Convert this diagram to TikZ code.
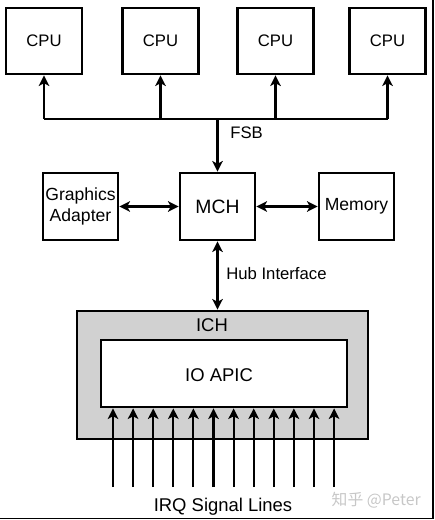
\documentclass[tikz,border=0pt]{standalone}
\usepackage{fontspec}
\setmainfont{Liberation Sans}
\newfontfamily\cjkfont{Noto Sans CJK SC}
\usetikzlibrary{arrows.meta}
\tikzset{
	unitbox/.style={draw, line width=1.6pt, fill=white, inner sep=0pt, align=center, font=\fontsize{10}{11.5}\selectfont},
	cpubox/.style={unitbox, minimum width=1.52cm, minimum height=1.32cm, font=\fontsize{9.5}{11}\selectfont},
	hubbox/.style={unitbox, minimum width=1.5cm, minimum height=1.34cm},
	wire/.style={line width=1.2pt, -{Stealth[length=6pt,width=6pt,inset=1.5pt]}},
	dwire/.style={line width=1.2pt, {Stealth[length=6pt,width=6pt,inset=1.5pt]}-{Stealth[length=6pt,width=6pt,inset=1.5pt]}},
	tag/.style={inner sep=0pt, font=\fontsize{9.5}{11}\selectfont}
}
\begin{document}
\begin{tikzpicture}[x=0.02cm, y=-0.02cm]
			%%%%% START %%%%%
			\useasboundingbox (0,0) rectangle (434,520);
			
			\node[cpubox] (cpu1) at (44, 41) {CPU};
			\node[cpubox] (cpu2) at (160.5, 41) {CPU};
			\node[cpubox] (cpu3) at (275.5, 41) {CPU};
			\node[cpubox] (cpu4) at (387.5, 41) {\raisebox{-3pt}{CPU}};
			
			\coordinate (fsb) at (217.5, 119);
			\draw[line width=1.2pt] (cpu1.south |- fsb) -- (cpu4.south |- fsb);
			\foreach \c in {cpu1,cpu2,cpu3,cpu4}
				\draw[wire] (\c.south |- fsb) -- (\c.south);
			\node[tag, anchor=west] (fsbname) at (230, 133) {FSB};
			
			\node[hubbox] (gfx) at (80.5, 206.5) {Graphics\\Adapter};
			\node[hubbox, font=\fontsize{11}{13}\selectfont] (mch) at (217.5, 206.5) {MCH};
			\node[hubbox] (mem) at (356.5, 206.5) {Memory};
			
			\draw[wire] (fsb) -- (mch.north);
			\draw[dwire] (gfx) -- (mch);
			\draw[dwire] (mch) -- (mem);
			
			\node[unitbox, fill=black!18, minimum width=5.82cm, minimum height=2.56cm] (ich) at (222.5, 375) {};
			\node[tag, font=\fontsize{10.5}{12}\selectfont] (ichname) at (212, 325) {ICH};
			\node[unitbox, minimum width=4.92cm, minimum height=1.34cm] (apic) at (224, 373.5) {};
			\node[tag, font=\fontsize{10.5}{12}\selectfont] (apicname) at (219, 375) {IO APIC};
			
			\draw[dwire] (mch.south) -- (ich.north -| mch.south);
			\node[tag, anchor=west] (hubname) at (226, 274) {Hub Interface};
			
			% interrupt request lines
			\foreach \i in {0,...,11}{
				\coordinate (irq\i) at (113+\i*20.1, 487);
				\draw[wire] (irq\i) -- (irq\i |- apic.south);
			}
			\node[tag, font=\fontsize{10.5}{12}\selectfont] (irqname) at (223, 507) {IRQ Signal Lines};
			
			\node[tag, text=black!22, font=\cjkfont\fontsize{9}{11}\selectfont, anchor=east] (mark) at (421, 500) {知乎 @Peter};
			
			\draw[line width=1pt] (0, 518.5) -- (433, 518.5) -- (433, 0);
			%%%%% END %%%%%
\end{tikzpicture}
\end{document}
